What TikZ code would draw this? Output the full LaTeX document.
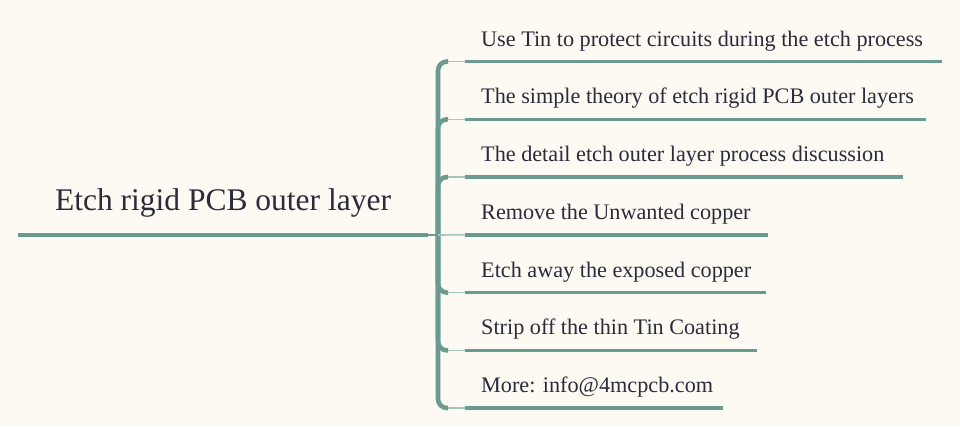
\documentclass[tikz,border=0pt]{standalone}
\usepackage{fontspec}
\setmainfont{Liberation Serif}
\definecolor{bg}{HTML}{FDFAF3}
\definecolor{branch}{HTML}{6A9A90}
\definecolor{lightbranch}{HTML}{A9C5BF}
\definecolor{txt}{HTML}{2B2B3A}
\begin{document}
\begin{tikzpicture}[x=1pt,y=-1pt,
  thickline/.style={draw=branch,line width=3.6pt},
  rootline/.style={draw=branch,line width=4.6pt},
  bracket/.style={draw=branch,line width=4.6pt,rounded corners=9pt},
  thinline/.style={draw=lightbranch,line width=1.6pt},
  stubline/.style={draw=branch,line width=1.4pt},
  childtext/.style={anchor=base west,inner sep=0pt,text=txt,font=\fontsize{22.2}{25}\selectfont},
  roottext/.style={anchor=base,inner sep=0pt,text=txt,font=\fontsize{31.5}{36}\selectfont}]
\fill[bg] (0,0) rectangle (960,426);
\useasboundingbox (0,0) rectangle (960,426);
% root
\coordinate (rootL) at (18,235);
\coordinate (rootR) at (428,235);
\node[roottext] (root) at (223,210) {Etch rigid PCB outer layer};
\draw[rootline] (rootL) -- (rootR);
\coordinate (hub) at (438,235);
\draw[stubline] (rootR) -- (hub);
% children
\foreach \i/\yy/\xe/\t in {
  1/61.5/942/{Use Tin to protect circuits during the etch process},
  2/119.3/926/{The simple theory of etch rigid PCB outer layers},
  3/177/903/{The detail etch outer layer process discussion},
  4/234.8/768/{Remove the Unwanted copper},
  5/292.6/766/{Etch away the exposed copper},
  6/350.4/757/{Strip off the thin Tin Coating},
  7/408/723/{More: info@4mcpcb.com}}{
  \coordinate (s\i) at (465,\yy);
  \coordinate (e\i) at (\xe,\yy);
  \coordinate (k\i) at (448,\yy);
  \node[childtext] (c\i) at (481,\yy-15.5) {\t};
  \draw[thickline] (s\i) -- (e\i);
}
\foreach \i in {1,2,3,5,6,7}{
  \draw[thinline] (k\i) -- (s\i);
  \draw[bracket] (hub) |- (k\i);
}
\draw[thinline] (hub) -- (s4);
\end{tikzpicture}
\end{document}
